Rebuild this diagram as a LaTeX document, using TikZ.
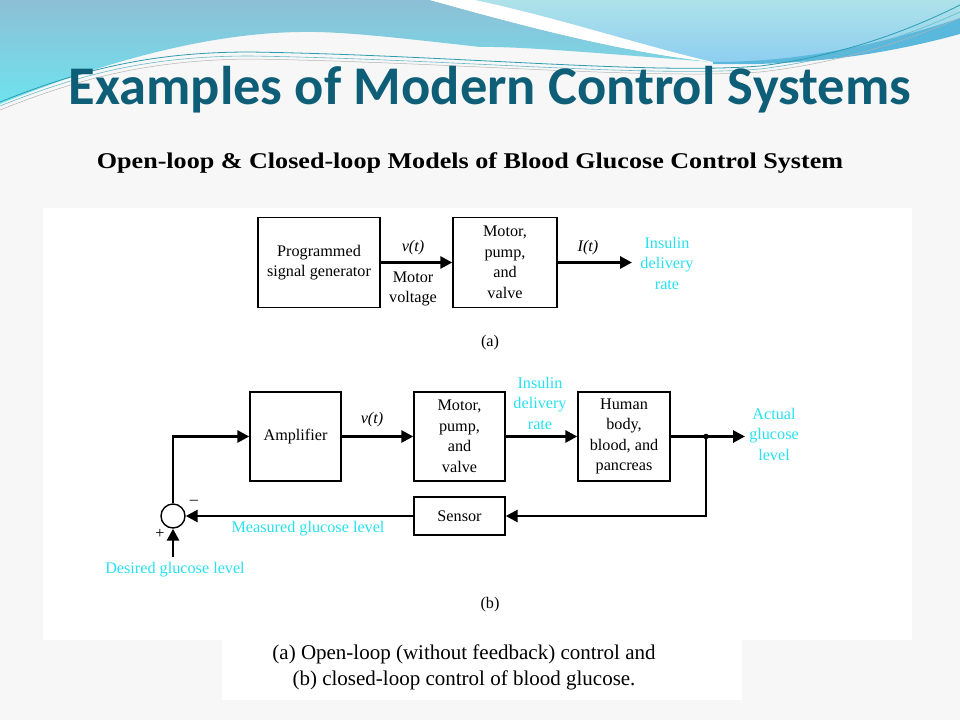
\documentclass[tikz,border=0pt]{standalone}
\usepackage{fontspec}
\setmainfont{Liberation Serif}
\newfontfamily\titlefont{Carlito}
\usetikzlibrary{arrows.meta}
\definecolor{titleblue}{HTML}{0F5E78}
\definecolor{cyantext}{RGB}{40,225,240}
\definecolor{bgray}{HTML}{F7F7F7}
\definecolor{waveA}{HTML}{8DBFD6}
\definecolor{waveAb}{HTML}{6EE3EE}
\definecolor{waveB}{HTML}{AEE2EA}
\definecolor{waveBb}{HTML}{8CCDF0}
\definecolor{waveC}{HTML}{5BB8DD}
\definecolor{lineteal}{HTML}{2A9DB0}
\begin{document}
\begin{tikzpicture}[x=1pt,y=-1pt,
  blk/.style={draw,line width=1.4pt,align=center,inner sep=0pt,
    font=\fontsize{16.2}{20.5}\selectfont},
  sig/.style={line width=2.8pt,-{Triangle[length=12pt,width=12pt]}},
  lbl/.style={align=center,inner sep=0pt,font=\fontsize{16.2}{20.5}\selectfont},
  cy/.style={lbl,text=cyantext},
  captxt/.style={align=center,inner sep=0pt,font=\fontsize{21}{26}\selectfont}]
\useasboundingbox (0,0) rectangle (960,720);
\fill[bgray] (0,0) rectangle (960,720);
% top waves
\shade[top color=waveA,bottom color=waveAb]
  (0,0) -- (430,0) .. controls (520,25) and (620,52) .. (713,62)
  .. controls (620,55) and (520,46) .. (480,47)
  .. controls (400,38) and (340,31) .. (300,32)
  .. controls (220,33) and (120,55) .. (0,104) -- cycle;
\fill[white] (430,0) .. controls (520,25) and (620,52) .. (713,62)
  .. controls (640,45) and (560,18) .. (475,0) -- cycle;
\shade[top color=waveB,bottom color=waveBb]
  (475,0) -- (960,0) -- (960,18) .. controls (870,50) and (790,65) .. (713,62)
  .. controls (640,45) and (560,18) .. (475,0) -- cycle;
\fill[waveC] (713,62) .. controls (800,62) and (880,45) .. (960,18) -- (960,34)
  .. controls (880,56) and (800,66) .. (713,64) -- cycle;
\draw[lineteal,line width=0.8pt] (0,102) .. controls (80,70) and (150,52) .. (250,52)
  .. controls (450,55) and (650,75) .. (760,66) .. controls (850,55) and (920,25) .. (960,5);
\draw[lineteal!70!white,line width=0.6pt] (0,106) .. controls (80,74) and (150,56) .. (250,56)
  .. controls (450,59) and (650,78) .. (760,69) .. controls (850,58) and (920,30) .. (960,12);
\draw[gray!60,line width=0.5pt] (0,110) .. controls (80,78) and (150,60) .. (250,59)
  .. controls (450,62) and (650,80) .. (760,72) .. controls (850,62) and (920,35) .. (960,18);
% title
\node[anchor=base,inner sep=0pt,text=titleblue,font=\titlefont\bfseries\fontsize{54.5}{54.5}\selectfont]
  (title) at (490,104) {Examples of Modern Control Systems};
\node[anchor=base,inner sep=0pt,font=\bfseries\fontsize{22.5}{22.5}\selectfont]
  (subtitle) at (470,168) {\scalebox{1.16}[1]{Open-loop \& Closed-loop Models of Blood Glucose Control System}};
% panels
\fill[white] (43,208) rectangle (912,640);
\fill[white] (222,640) rectangle (742,700);
% (a)
\node[blk,minimum width=122pt,minimum height=90pt] (gen) at (319,262.5) {Programmed\\signal generator};
\node[blk,minimum width=104pt,minimum height=90pt] (mpv) at (505,262.5) {Motor,\\pump,\\and\\valve};
\coordinate (aout) at (632,262.5);
\draw[sig] (gen.east) -- (mpv.west);
\draw[sig] (mpv.east) -- (aout);
\node[lbl,font=\itshape\fontsize{16.2}{20.5}\selectfont] (vta) at (413,248) {v(t)};
\node[lbl] (mv) at (413,289) {Motor\\voltage};
\node[lbl,font=\itshape\fontsize{16.2}{20.5}\selectfont] (ita) at (588,248) {I(t)};
\node[cy] (ida) at (667,263) {Insulin\\delivery\\rate};
\node[lbl] (la) at (490,343) {(a)};
% (b)
\node[blk,minimum width=91pt,minimum height=89pt] (amp) at (295.5,436.5) {Amplifier};
\node[blk,minimum width=91pt,minimum height=89pt] (mot) at (459.5,436.5) {Motor,\\pump,\\and\\valve};
\node[blk,minimum width=92pt,minimum height=89pt] (hum) at (624,436.5) {Human\\body,\\blood, and\\pancreas};
\node[blk,minimum width=91pt,minimum height=38pt] (sen) at (459.5,516) {Sensor};
\node[draw,circle,line width=1.4pt,minimum size=24pt,inner sep=0pt] (sum) at (173,516) {};
\coordinate (jn) at (706,436.5);
\coordinate (bout) at (745,436.5);
\coordinate (din) at (173,557);
\draw[sig] (sum.north) |- (amp.west);
\draw[sig] (amp.east) -- (mot.west);
\draw[sig] (mot.east) -- (hum.west);
\draw[sig] (hum.east) -- (bout);
\draw[sig] (jn) |- (sen.east);
\draw[sig] (sen.west) -- (sum.east);
\draw[sig] (din) -- (sum.south);
\fill (jn) circle (2.8pt);
\node[lbl,font=\itshape\fontsize{16.2}{20.5}\selectfont] (vtb) at (372,420) {v(t)};
\node[cy] (idb) at (540,403) {Insulin\\delivery\\rate};
\node[cy] (agl) at (774,434) {Actual\\glucose\\level};
\node[lbl] (minus) at (194,502) {\textendash};
\node[lbl] (plus) at (160,534) {+};
\node[cy] (mgl) at (308,529) {Measured glucose level};
\node[cy] (dgl) at (175,570) {Desired glucose level};
\node[lbl] (lb) at (490,605) {(b)};
% caption
\node[captxt] (caption) at (464,667) {(a) Open-loop (without feedback) control and\\(b) closed-loop control of blood glucose.};
\end{tikzpicture}
\end{document}
